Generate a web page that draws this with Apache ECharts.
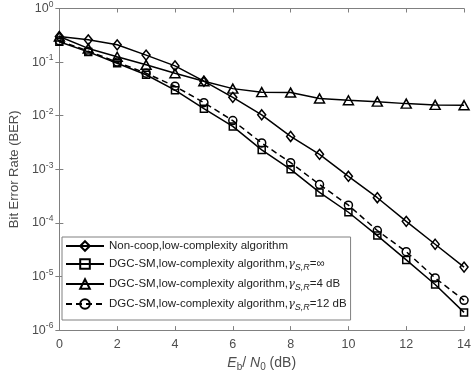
<!DOCTYPE html>
<html>
<head>
<meta charset="utf-8">
<script src="https://cdn.jsdelivr.net/npm/echarts@6/dist/echarts.min.js"></script>
<style>
  html, body { margin: 0; padding: 0; background: #fff; }
  #chart { width: 474px; height: 377px; }
</style>
</head>
<body>
<div id="chart"></div>
<script>
// Eb/N0 (dB)
var snr = [0, 1, 2, 3, 4, 5, 6, 7, 8, 9, 10, 11, 12, 13, 14];

// BER
var nonCoop = [0.30, 0.26, 0.21, 0.135, 0.085, 0.044, 0.022, 0.0104, 0.0041, 0.0019, 7.4e-4, 2.95e-4, 1.07e-4, 4.0e-5, 1.5e-5];
var dgcInf  = [0.24, 0.155, 0.095, 0.058, 0.030, 0.0135, 0.0063, 0.0023, 1.0e-3, 3.7e-4, 1.58e-4, 5.8e-5, 2.04e-5, 7.1e-6, 2.14e-6];
var dgc4    = [0.30, 0.18, 0.126, 0.089, 0.062, 0.044, 0.032, 0.0275, 0.027, 0.021, 0.0194, 0.0183, 0.0168, 0.0159, 0.0157];
var dgc12   = [0.25, 0.16, 0.10, 0.062, 0.0355, 0.0175, 0.0081, 0.0031, 0.00133, 5.2e-4, 2.14e-4, 7.2e-5, 2.9e-5, 9.4e-6, 3.6e-6];

var names = [
  'Non-coop,low-complexity algorithm',
  'DGC-SM,low-complexity algorithm,inf',
  'DGC-SM,low-complexity algorithm,4',
  'DGC-SM,low-complexity algorithm,12'
];

var font = 'Liberation Sans, Arial, sans-serif';
var axisGray = '#808080';
var textGray = '#4d4d4d';

function pairs(ys) {
  var out = [];
  for (var i = 0; i < snr.length; i++) out.push([snr[i], ys[i]]);
  return out;
}

function makeSeries(name, ys, symbol, size, dashed) {
  return {
    type: 'line',
    name: name,
    data: pairs(ys),
    symbol: symbol,
    symbolSize: size,
    showAllSymbol: true,
    lineStyle: { color: '#000', width: 1.5, type: dashed ? [6, 4] : 'solid' },
    itemStyle: { color: 'rgba(255,255,255,0)', borderColor: '#000', borderWidth: 1.5 },
    emphasis: { disabled: true },
    animation: false
  };
}

var myChart = echarts.init(document.getElementById('chart'));

var option = {
  backgroundColor: '#fff',
  textStyle: { fontFamily: font },
  grid: { left: 47, right: 7, top: 6, bottom: 44 },
  legend: {
    orient: 'vertical',
    left: 62,
    top: 237,
    padding: [3, 4, 8, 3],
    itemGap: 5,
    itemWidth: 38,
    itemHeight: 12,
    borderColor: axisGray,
    borderWidth: 1,
    backgroundColor: '#fff',
    data: names,
    formatter: function (name) {
      if (name === names[0]) return '{n|' + name + '}';
      var tail = name === names[1] ? '=∞' : (name === names[2] ? '=4 dB' : '=12 dB');
      return '{n|DGC-SM,low-complexity algorithm,}{g|γ}{s|S,R}{n|' + tail + '}';
    },
    textStyle: {
      color: '#222',
      fontFamily: font,
      fontSize: 11.5,
      rich: {
        n: { fontSize: 11.5, fontFamily: font, color: '#222', lineHeight: 16 },
        g: { fontSize: 11.5, fontFamily: 'DejaVu Serif, serif', fontStyle: 'italic', color: '#222', lineHeight: 16 },
        s: { fontSize: 9, fontStyle: 'italic', fontFamily: font, color: '#222', verticalAlign: 'bottom', lineHeight: 12, padding: [6, 0, 0, 0] }
      }
    }
  },
  xAxis: [{
    type: 'value',
    min: 0,
    max: 14,
    interval: 2,
    name: '{i|E}{sub|b}{n|/ }{i|N}{sub|0}{n| (dB)}',
    nameLocation: 'middle',
    nameGap: 23,
    nameTextStyle: {
      rich: {
        i: { fontSize: 14, fontStyle: 'italic', fontFamily: font, color: textGray },
        n: { fontSize: 14, fontFamily: font, color: textGray },
        sub: { fontSize: 10, fontFamily: font, color: textGray, verticalAlign: 'bottom', padding: [8, 0, 0, 0] }
      }
    },
    axisLine: { lineStyle: { color: axisGray, width: 1 } },
    axisTick: { inside: true, length: 4, lineStyle: { color: axisGray } },
    axisLabel: { color: textGray, fontSize: 12.5, fontFamily: font, margin: 8 },
    splitLine: { show: false }
  }, {
    type: 'value',
    position: 'top',
    min: 0,
    max: 14,
    interval: 2,
    axisLine: { lineStyle: { color: axisGray, width: 1 } },
    axisTick: { inside: true, length: 4, lineStyle: { color: axisGray } },
    axisLabel: { show: false },
    splitLine: { show: false }
  }],
  yAxis: [{
    type: 'log',
    logBase: 10,
    min: 1e-6,
    max: 1,
    name: 'Bit Error Rate (BER)',
    nameLocation: 'middle',
    nameGap: 34,
    nameTextStyle: { color: textGray, fontSize: 13, fontFamily: font },
    axisLine: { show: true, lineStyle: { color: axisGray, width: 1 } },
    axisTick: { inside: true, length: 4, lineStyle: { color: axisGray } },
    axisLabel: {
      color: textGray,
      margin: 6,
      formatter: function (v) {
        var e = Math.round(Math.log(v) / Math.LN10);
        return '{b|10}{e|' + e + '}';
      },
      rich: {
        b: { fontSize: 12.5, fontFamily: font, color: textGray },
        e: { fontSize: 8.5, fontFamily: font, color: textGray, verticalAlign: 'top', padding: [0, 0, 8, 0] }
      }
    },
    splitLine: { show: false }
  }, {
    type: 'log',
    logBase: 10,
    min: 1e-6,
    max: 1,
    position: 'right',
    axisLine: { show: true, lineStyle: { color: axisGray, width: 1 } },
    axisTick: { inside: true, length: 4, lineStyle: { color: axisGray } },
    axisLabel: { show: false },
    splitLine: { show: false }
  }],
  series: [
    makeSeries(names[0], nonCoop, 'diamond', [8, 10], false),
    makeSeries(names[1], dgcInf, 'rect', [7, 7], false),
    makeSeries(names[2], dgc4, 'triangle', [10, 9], false),
    makeSeries(names[3], dgc12, 'circle', 8, true)
  ]
};

myChart.setOption(option);
</script>
</body>
</html>
